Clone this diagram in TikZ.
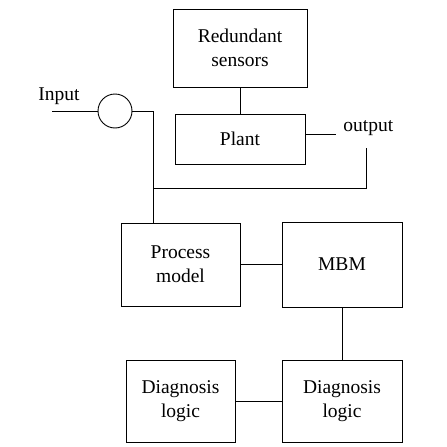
\documentclass[tikz,border=0pt]{standalone}
\usepackage{fontspec}
\setmainfont{Liberation Serif}
\begin{document}
\begin{tikzpicture}[x=1pt,y=-1pt,line width=0.9pt,
  every node/.style={font=\fontsize{19.5}{24}\selectfont},
  blockbox/.style={draw,rectangle,inner sep=0pt,align=center},
  sumcircle/.style={draw,circle,inner sep=0pt,minimum size=34pt},
  lbl/.style={inner sep=0pt}]
\useasboundingbox (0,0) rectangle (447,447);
\node[blockbox,minimum width=134pt,minimum height=78pt] (rs) at (240,48) {Redundant\\sensors};
\node[blockbox,minimum width=130pt,minimum height=50pt] (plant) at (240,139) {Plant};
\node[blockbox,minimum width=119pt,minimum height=83pt] (pm) at (180.5,264.5) {Process\\model};
\node[blockbox,minimum width=120pt,minimum height=85pt] (mbm) at (342,264.5) {MBM};
\node[blockbox,minimum width=109pt,minimum height=82pt] (d1) at (180.5,401) {Diagnosis\\logic};
\node[blockbox,minimum width=120pt,minimum height=82pt] (d2) at (342,401) {Diagnosis\\logic};
\node[sumcircle] (sum) at (115,111) {};
\node[lbl] (input) at (59,96) {Input};
\node[lbl,anchor=west] (output) at (343,128) {output};
\coordinate (inA) at (52,111);
\coordinate (outA) at (336,134);
\coordinate (fb) at (366,148);
\coordinate (corner) at (153,111);
\coordinate (join) at (153,188);
\draw (inA) -- (sum.west);
\draw (sum.east) -- (corner) -- (corner |- pm.north);
\draw (rs.south) -- (plant.north);
\draw (plant.east |- outA) -- (outA);
\draw (fb) |- (join);
\draw (pm.east) -- (mbm.west);
\draw (mbm.south) -- (d2.north);
\draw (d1.east) -- (d2.west);
\end{tikzpicture}
\end{document}
